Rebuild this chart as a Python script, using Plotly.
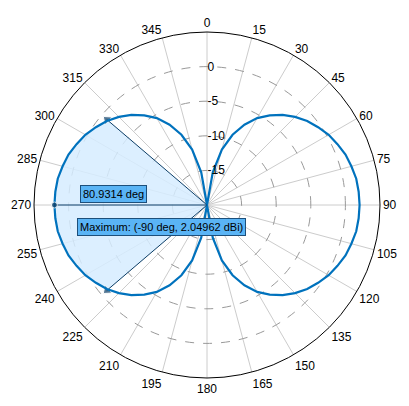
import plotly.graph_objects as go

# gain (dBi), 0..90 deg in 5 deg steps (pattern is symmetric)
quarter_gain = [-20, -20, -15.2, -11.7, -9.2, -7.2, -5.5, -4.2, -3.0, -2.0,
                -1.1, -0.4, 0.3, 0.8, 1.3, 1.6, 1.9, 2.0, 2.05]
half_gain = quarter_gain + quarter_gain[-2::-1]          # 0..180
gain = half_gain + half_gain[1:]                          # 0..360
angles = list(range(0, 365, 5))

max_angle = 270
max_gain = 2.04962
beam_lo, beam_hi = 229.53, 310.47
half_power = -0.95
radial_ticks = [0, -5, -10, -15]
theta_ticks = list(range(0, 360, 15))

# shaded beamwidth wedge
wedge_t = [beam_lo] + [a for a in angles if beam_lo < a < beam_hi] + [beam_hi]
wedge_r = [half_power] + [g for a, g in zip(angles, gain) if beam_lo < a < beam_hi] + [half_power]

fig = go.Figure()
fig.add_trace(go.Scatterpolar(
    r=[-20] + wedge_r + [-20], theta=[0] + wedge_t + [0],
    mode="lines", fill="toself", fillcolor="rgba(214,236,255,0.85)",
    line=dict(width=0), hoverinfo="skip"))
for a in (beam_lo, beam_hi):
    fig.add_trace(go.Scatterpolar(
        r=[-20, half_power], theta=[a, a], mode="lines+markers",
        line=dict(color="#0b3d66", width=1),
        marker=dict(symbol="triangle-up", size=[0, 9], angle=a, color="#0b3d66")))
fig.add_trace(go.Scatterpolar(
    r=gain, theta=angles, mode="lines",
    line=dict(color="#0072bd", width=2.2)))
fig.add_trace(go.Scatterpolar(
    r=[-20, max_gain], theta=[max_angle, max_angle], mode="lines+markers",
    line=dict(color="#0b3d66", width=1),
    marker=dict(size=[0, 6], color="#0b3d66")))

box = dict(bgcolor="#5ab4f5", bordercolor="#1d4f7a", borderwidth=1, borderpad=2,
           font=dict(family="Liberation Sans", size=11, color="black"),
           showarrow=False, xref="paper", yref="paper", xanchor="left", yanchor="middle")
fig.add_annotation(text="80.9314 deg", x=72 / 409, y=1 - 186 / 406, **box)
fig.add_annotation(text="Maximum: (-90 deg, 2.04962 dBi)", x=69 / 409, y=1 - 219 / 406, **box)

fig.update_layout(
    width=409, height=406, showlegend=False,
    paper_bgcolor="white", plot_bgcolor="white",
    margin=dict(l=0, r=0, t=0, b=0),
    font=dict(family="Liberation Sans", size=12, color="black"),
    polar=dict(
        domain=dict(x=[26 / 409, 372 / 409], y=[1 - 370 / 406, 1 - 24 / 406]),
        bgcolor="white",
        angularaxis=dict(direction="clockwise", rotation=90, tickvals=theta_ticks,
                         ticktext=[str(t) for t in theta_ticks], ticks="",
                         showline=True, linecolor="black", linewidth=1,
                         gridcolor="#cccccc", gridwidth=1,
                         tickfont=dict(size=12)),
        radialaxis=dict(range=[-20, 5], tickvals=radial_ticks,
                        ticktext=[str(t) for t in radial_ticks], angle=90,
                        tickangle=90, showline=False, ticks="",
                        gridcolor="#999999", griddash="dash", gridwidth=1,
                        tickfont=dict(size=12)),
    ),
)

fig.write_html("out.html")
